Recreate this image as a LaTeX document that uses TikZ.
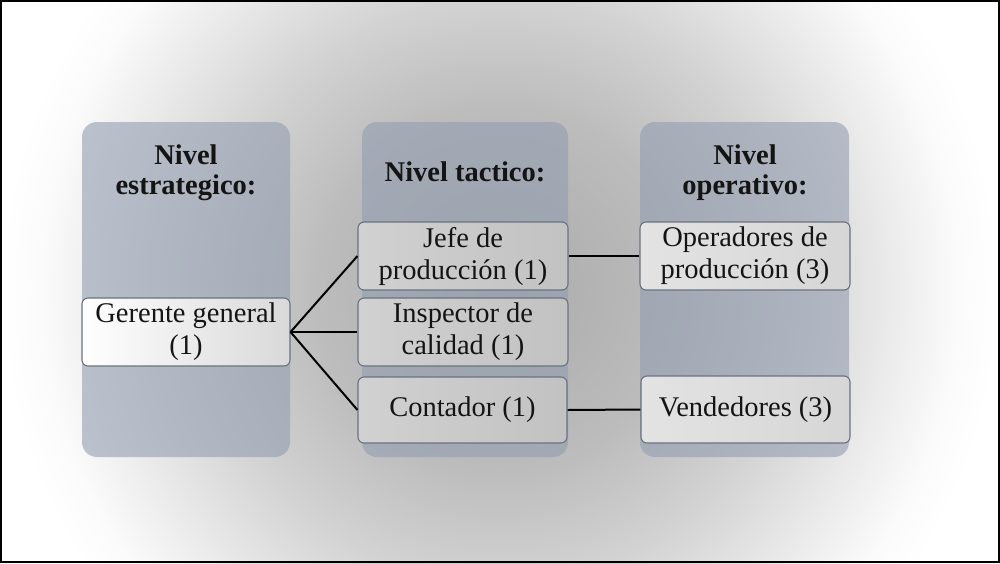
\documentclass[tikz,border=0pt]{standalone}
\usepackage{fontspec}
\setmainfont{Liberation Serif}
\definecolor{bgA}{HTML}{AAAAAA}
\definecolor{bgB}{HTML}{BCBCBC}
\definecolor{bgC}{HTML}{D2D2D2}
\definecolor{bgD}{HTML}{E8E8E8}
\definecolor{bgE}{HTML}{FBFBFB}
\definecolor{panelc}{HTML}{929EB0}
\definecolor{boxline}{HTML}{6A7280}
\definecolor{txt}{HTML}{141414}
\pgfdeclareradialshading{bgshade}{\pgfpointorigin}{color(0bp)=(bgA); color(9bp)=(bgB); color(14.5bp)=(bgC); color(19bp)=(bgD); color(23bp)=(bgE); color(25bp)=(white); color(50bp)=(white)}
\begin{document}
\begin{tikzpicture}[x=1pt,y=-1pt,
  panel/.style={fill=panelc, fill opacity=0.6, rounded corners=15pt},
  header/.style={align=center, text=txt, inner sep=0pt, font=\fontsize{28.5}{30}\selectfont\bfseries},
  box/.style={draw=boxline, line width=1.1pt, rounded corners=6pt, minimum width=209pt, minimum height=68pt, align=center, inner sep=0pt, text=txt, font=\fontsize{28.5}{32}\selectfont},
  whitebox/.style={box, left color=white, right color=black!15},
  midbox/.style={box, left color=black!18, right color=black!24},
  rightbox/.style={box, left color=black!11, right color=black!16},
  conn/.style={draw=black, line width=2pt}
]
\useasboundingbox (0,0) rectangle (1000,563);
\begin{scope}
  \clip (0,0) rectangle (1000,563);
  \shade[shading=bgshade] (0,-210) rectangle (1000,790);
\end{scope}
\draw[line width=2pt] (1,1) rectangle (999,562);

% panels
\path[panel] (82,122) rectangle (290,457);
\path[panel] (362,122) rectangle (568,457);
\path[panel] (640,122) rectangle (849,457);

% headers
\node[header] (h1) at (186,173) {Nivel\\estrategico:};
\node[header] (h2) at (465,172) {Nivel tactico:};
\node[header] (h3) at (745,173) {Nivel\\operativo:};

% boxes
\node[whitebox, minimum width=208pt] (ger) at (186,332) {Gerente general\\(1)};
\node[midbox, minimum width=210pt] (jefe) at (463,256) {Jefe de\\producción (1)};
\node[midbox, minimum width=210pt] (insp) at (463,332) {Inspector de\\calidad (1)};
\node[midbox, minimum height=66pt] (cont) at (462.5,410) {Contador (1)};
\node[rightbox, minimum width=210pt] (oper) at (745,256) {Operadores de\\producción (3)};
\node[rightbox, minimum height=67pt] (vend) at (745.5,409.5) {Vendedores (3)};

% connectors
\draw[conn] (ger.east) -- (jefe.west);
\draw[conn] (ger.east) -- (insp.west);
\draw[conn] (ger.east) -- (cont.west);
\draw[conn] (jefe.east) -- (oper.west);
\draw[conn] (cont.east) -- (vend.west);
\end{tikzpicture}
\end{document}
